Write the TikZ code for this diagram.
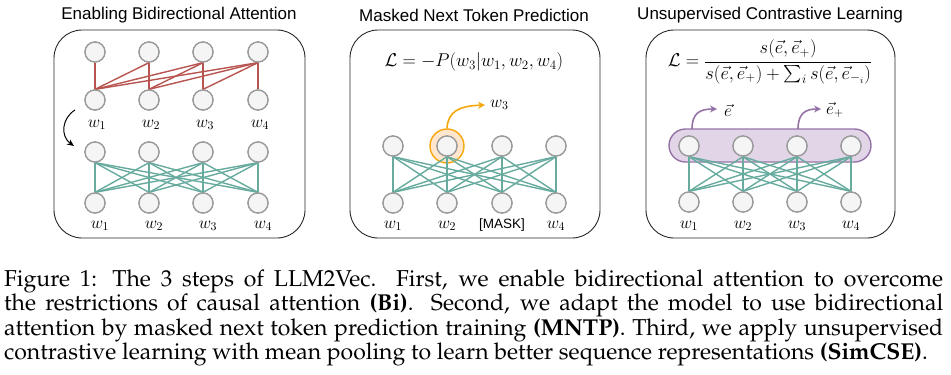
\RequirePackage{fix-cm}
\documentclass[tikz,border=0pt]{standalone}
\usepackage{amsmath}
\usepackage[T1]{fontenc}
\usepackage{fontspec}
\setsansfont{Liberation Sans}
\usetikzlibrary{arrows.meta}
\definecolor{nodefill}{HTML}{F5F5F5}
\definecolor{nodeline}{HTML}{9A9A9A}
\definecolor{redline}{HTML}{B85450}
\definecolor{tealline}{HTML}{67AB9F}
\definecolor{orfill}{HTML}{FFE6CC}
\definecolor{orline}{HTML}{F5A70C}
\definecolor{pufill}{HTML}{E1D5E7}
\definecolor{puline}{HTML}{9673A6}
\tikzset{
  tok/.style={circle, draw=nodeline, fill=nodefill, line width=1.3pt, minimum size=20pt, inner sep=0pt},
  panel/.style={draw=black!85, line width=0.9pt, rounded corners=28pt},
  ttl/.style={font=\sffamily\fontsize{17}{20}\selectfont, inner sep=0pt},
  lab/.style={font=\fontsize{17}{20}\selectfont, inner sep=0pt},
  formula/.style={font=\fontsize{18.5}{22}\selectfont, inner sep=0pt},
  redl/.style={draw=redline, line width=1.4pt},
  teall/.style={draw=tealline, line width=1.4pt},
  orarrow/.style={draw=orline, line width=1.6pt, -{Stealth[length=7pt,width=7pt]}},
  puarrow/.style={draw=puline, line width=1.6pt, -{Stealth[length=7pt,width=7pt]}},
}
\begin{document}
\begin{tikzpicture}[x=1pt,y=-1pt]
\useasboundingbox (0,0) rectangle (951,375);

% ---------- Panel 1 ----------
\node[ttl] (t1) at (179,15) {Enabling Bidirectional Attention};
\draw[panel] (54,30) rectangle (305,238);
\foreach \i/\x in {1/95,2/149,3/203,4/258}{
  \node[tok] (a\i) at (\x,52) {};
  \node[tok] (b\i) at (\x,100) {};
  \node[tok] (c\i) at (\x,152) {};
  \node[tok] (d\i) at (\x,203) {};
  \node[lab] (lb\i) at (\x+2,125) {$w_\i$};
  \node[lab] (ld\i) at (\x+5,226) {$w_\i$};
}
\foreach \j in {1,...,4}{
  \foreach \i in {1,...,\j}{
    \draw[redl] (a\j.south) -- (b\i.north);
  }
  \foreach \i in {1,...,4}{
    \draw[teall] (c\j.south) -- (d\i.north);
  }
}
\foreach \i in {1,...,4}{
  \node[tok] at (a\i) {};
  \node[tok] at (b\i) {};
  \node[tok] at (c\i) {};
  \node[tok] at (d\i) {};
}
\coordinate (arS) at (75,110);
\coordinate (arE) at (74,146);
\draw[line width=1pt, -{Stealth[length=7pt,width=6pt]}] (arS) .. controls (62,118) and (60,136) .. (arE);

% ---------- Panel 2 ----------
\node[ttl] (t2) at (474,15) {Masked Next Token Prediction};
\draw[panel] (350,30) rectangle (600,238);
\node[formula] (f2) at (474,62) {$\mathcal{L} = -P(w_3|w_1, w_2, w_4)$};
\node[circle, draw=orline, fill=orfill, line width=1.4pt, minimum size=34pt, inner sep=0pt] (hl) at (447,146) {};
\foreach \i/\x in {1/393,2/447,3/502,4/556}{
  \node[tok] (e\i) at (\x,146) {};
  \node[tok] (g\i) at (\x,203) {};
}
\foreach \j in {1,...,4}{
  \foreach \i in {1,...,4}{
    \draw[teall] (e\j.south) -- (g\i.north);
  }
}
\foreach \i in {1,...,4}{
  \node[tok] at (e\i) {};
  \node[tok] at (g\i) {};
}
\node[lab] (lg1) at (393,226) {$w_1$};
\node[lab] (lg2) at (447,226) {$w_2$};
\node[font=\sffamily\fontsize{13.5}{16}\selectfont, inner sep=0pt] (lg3) at (502,225) {[MASK]};
\node[lab] (lg4) at (556,226) {$w_4$};
\node[lab, anchor=west] (w3out) at (490,105) {$w_3$};
\draw[orarrow] (hl.north) .. controls (448,112) and (458,106) .. (w3out.west -| 485,106);

% ---------- Panel 3 ----------
\node[ttl] (t3) at (770,15) {Unsupervised Contrastive Learning};
\draw[panel] (646,30) rectangle (895,238);
\node[formula] (f3) at (770,62) {$\mathcal{L} = \dfrac{s(\vec{e},\vec{e}_+)}{s(\vec{e},\vec{e}_+)+\sum_i s(\vec{e},\vec{e}_{-_i})}$};
\node[draw=puline, fill=pufill, line width=1.4pt, rounded corners=16.5pt, minimum width=202pt, minimum height=33pt, inner sep=0pt] (pool) at (770,145.5) {};
\foreach \i/\x in {1/689,2/743,3/797,4/851}{
  \node[tok] (p\i) at (\x,146) {};
  \node[tok] (q\i) at (\x,202) {};
  \node[lab] (lq\i) at (\x,226) {$w_\i$};
}
\foreach \j in {1,...,4}{
  \foreach \i in {1,...,4}{
    \draw[teall] (p\j.south) -- (q\i.north);
  }
}
\foreach \i in {1,...,4}{
  \node[tok] at (p\i) {};
  \node[tok] at (q\i) {};
}
\node[lab, anchor=west] (eo) at (724,110) {$\vec{e}$};
\node[lab, anchor=west] (epo) at (826,110) {$\vec{e}_+$};
\coordinate (s1) at (692,129);
\coordinate (s2) at (798,129);
\draw[puarrow] (s1) .. controls (692,113) and (700,109) .. (717,109);
\draw[puarrow] (s2) .. controls (798,113) and (806,109) .. (821,109);

% ---------- Caption ----------
\node[anchor=north west, inner sep=0pt, text width=939pt, align=justify] (cap) at (4,270) {%
\fontencoding{T1}\fontfamily{ppl}\fontsize{23}{25.3}\selectfont\parfillskip=0pt
Figure 1: The 3 steps of LLM2Vec.\ \ First, we enable bidirectional attention to overcome\linebreak
the restrictions of causal attention \textbf{(Bi)}. Second, we adapt the model to use bidirectional\linebreak
attention by masked next token prediction training \textbf{(MNTP)}. Third, we apply unsupervised\linebreak
contrastive learning with mean pooling to learn better sequence representations \textbf{(SimCSE)}.};
\end{tikzpicture}
\end{document}
